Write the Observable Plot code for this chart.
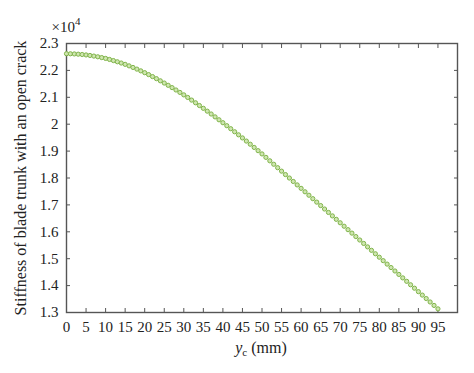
<!DOCTYPE html>
<html>
<head>
<meta charset="utf-8">
<script src="https://cdn.jsdelivr.net/npm/d3@7"></script>
<script src="https://cdn.jsdelivr.net/npm/@observablehq/plot@0.6"></script>
<style>
  html, body { margin: 0; padding: 0; background: #fff; }
  #chart { width: 474px; height: 373px; }
</style>
</head>
<body>
<div id="chart"></div>
<script>
// crack position y_c (mm)
const crackPos = [
  0,1,2,3,4,5,6,7,8,9,10,11,12,13,14,15,16,17,18,19,
  20,21,22,23,24,25,26,27,28,29,30,31,32,33,34,35,36,37,38,39,
  40,41,42,43,44,45,46,47,48,49,50,51,52,53,54,55,56,57,58,59,
  60,61,62,63,64,65,66,67,68,69,70,71,72,73,74,75,76,77,78,79,
  80,81,82,83,84,85,86,87,88,89,90,91,92,93,94,95
];
// stiffness of blade trunk (x 10^4)
const stiffness = [
  2.2620,2.2618,2.2612,2.2603,2.2591,2.2575,2.2555,2.2532,2.2506,2.2477,
  2.2445,2.2407,2.2365,2.2321,2.2274,2.2225,2.2169,2.2110,2.2048,2.1983,
  2.1915,2.1844,2.1770,2.1693,2.1613,2.1530,2.1446,2.1360,2.1272,2.1182,
  2.1090,2.0994,2.0896,2.0796,2.0694,2.0590,2.0485,2.0379,2.0272,2.0164,
  2.0055,1.9944,1.9832,1.9719,1.9605,1.9490,1.9373,1.9255,1.9136,1.9016,
  1.8895,1.8767,1.8639,1.8511,1.8383,1.8255,1.8127,1.7999,1.7871,1.7743,
  1.7615,1.7487,1.7359,1.7231,1.7103,1.6975,1.6847,1.6719,1.6591,1.6463,
  1.6335,1.6207,1.6079,1.5951,1.5823,1.5695,1.5567,1.5439,1.5311,1.5183,
  1.5055,1.4927,1.4799,1.4671,1.4543,1.4415,1.4287,1.4159,1.4031,1.3903,
  1.3775,1.3647,1.3519,1.3391,1.3263,1.3135
];
const xTicks = [0,5,10,15,20,25,30,35,40,45,50,55,60,65,70,75,80,85,90,95];
const yTicks = [1.3,1.4,1.5,1.6,1.7,1.8,1.9,2.0,2.1,2.2,2.3];
const yLabel = "Stiffness of blade trunk with an open crack";

const data = crackPos.map((x, i) => ({x, y: stiffness[i] * 1e4}));
const yTickVals = yTicks.map(v => Math.round(v * 1e4));
const fmtY = d => String(+(d / 1e4).toFixed(1));
const font = "'Liberation Serif', 'Times New Roman', serif";

const plot = Plot.plot({
  width: 474,
  height: 373,
  marginLeft: 66,
  marginRight: 17,
  marginTop: 43,
  marginBottom: 61,
  style: {fontFamily: font, fontSize: "15px", color: "#222", background: "#fff"},
  x: {domain: [0, 100]},
  y: {domain: [13000, 23000]},
  marks: [
    Plot.axisX({ticks: xTicks, tickSize: -4, tickPadding: 13, label: null, stroke: "#555", fontSize: 15}),
    Plot.axisX({anchor: "top", ticks: xTicks, tickSize: -4, tickFormat: () => "", label: null, stroke: "#555"}),
    Plot.axisY({ticks: yTickVals, tickSize: -4, tickPadding: 12, tickFormat: fmtY, label: null, stroke: "#555", fontSize: 15}),
    Plot.axisY({anchor: "right", ticks: yTickVals, tickSize: -4, tickFormat: () => "", label: null, stroke: "#555"}),
    Plot.frame({stroke: "#555", strokeWidth: 1.4}),
    Plot.dot(data, {x: "x", y: "y", r: 2.1, symbol: "circle", fill: "#cfe6b0", stroke: "#80b44a", strokeWidth: 1})
  ]
});
document.getElementById("chart").appendChild(plot);

// multiplier label, axis titles
const svg = d3.select(plot);
const mult = svg.append("text").attr("x", 66).attr("y", 32)
  .attr("font-family", font).attr("font-size", 15).attr("fill", "#222");
mult.append("tspan").text("×10");
mult.append("tspan").attr("dy", -7).attr("font-size", 11).text("4");

svg.append("text").attr("transform", "translate(26,178) rotate(-90)").attr("text-anchor", "middle")
  .attr("font-family", font).attr("font-size", 16).attr("fill", "#222").text(yLabel);

const xl = svg.append("text").attr("x", 261).attr("y", 353).attr("text-anchor", "middle")
  .attr("font-family", font).attr("font-size", 16).attr("fill", "#222");
xl.append("tspan").attr("font-style", "italic").text("y");
xl.append("tspan").attr("dy", 3).attr("font-size", 11).text("c");
xl.append("tspan").attr("dy", -3).text(" (mm)");
</script>
</body>
</html>
